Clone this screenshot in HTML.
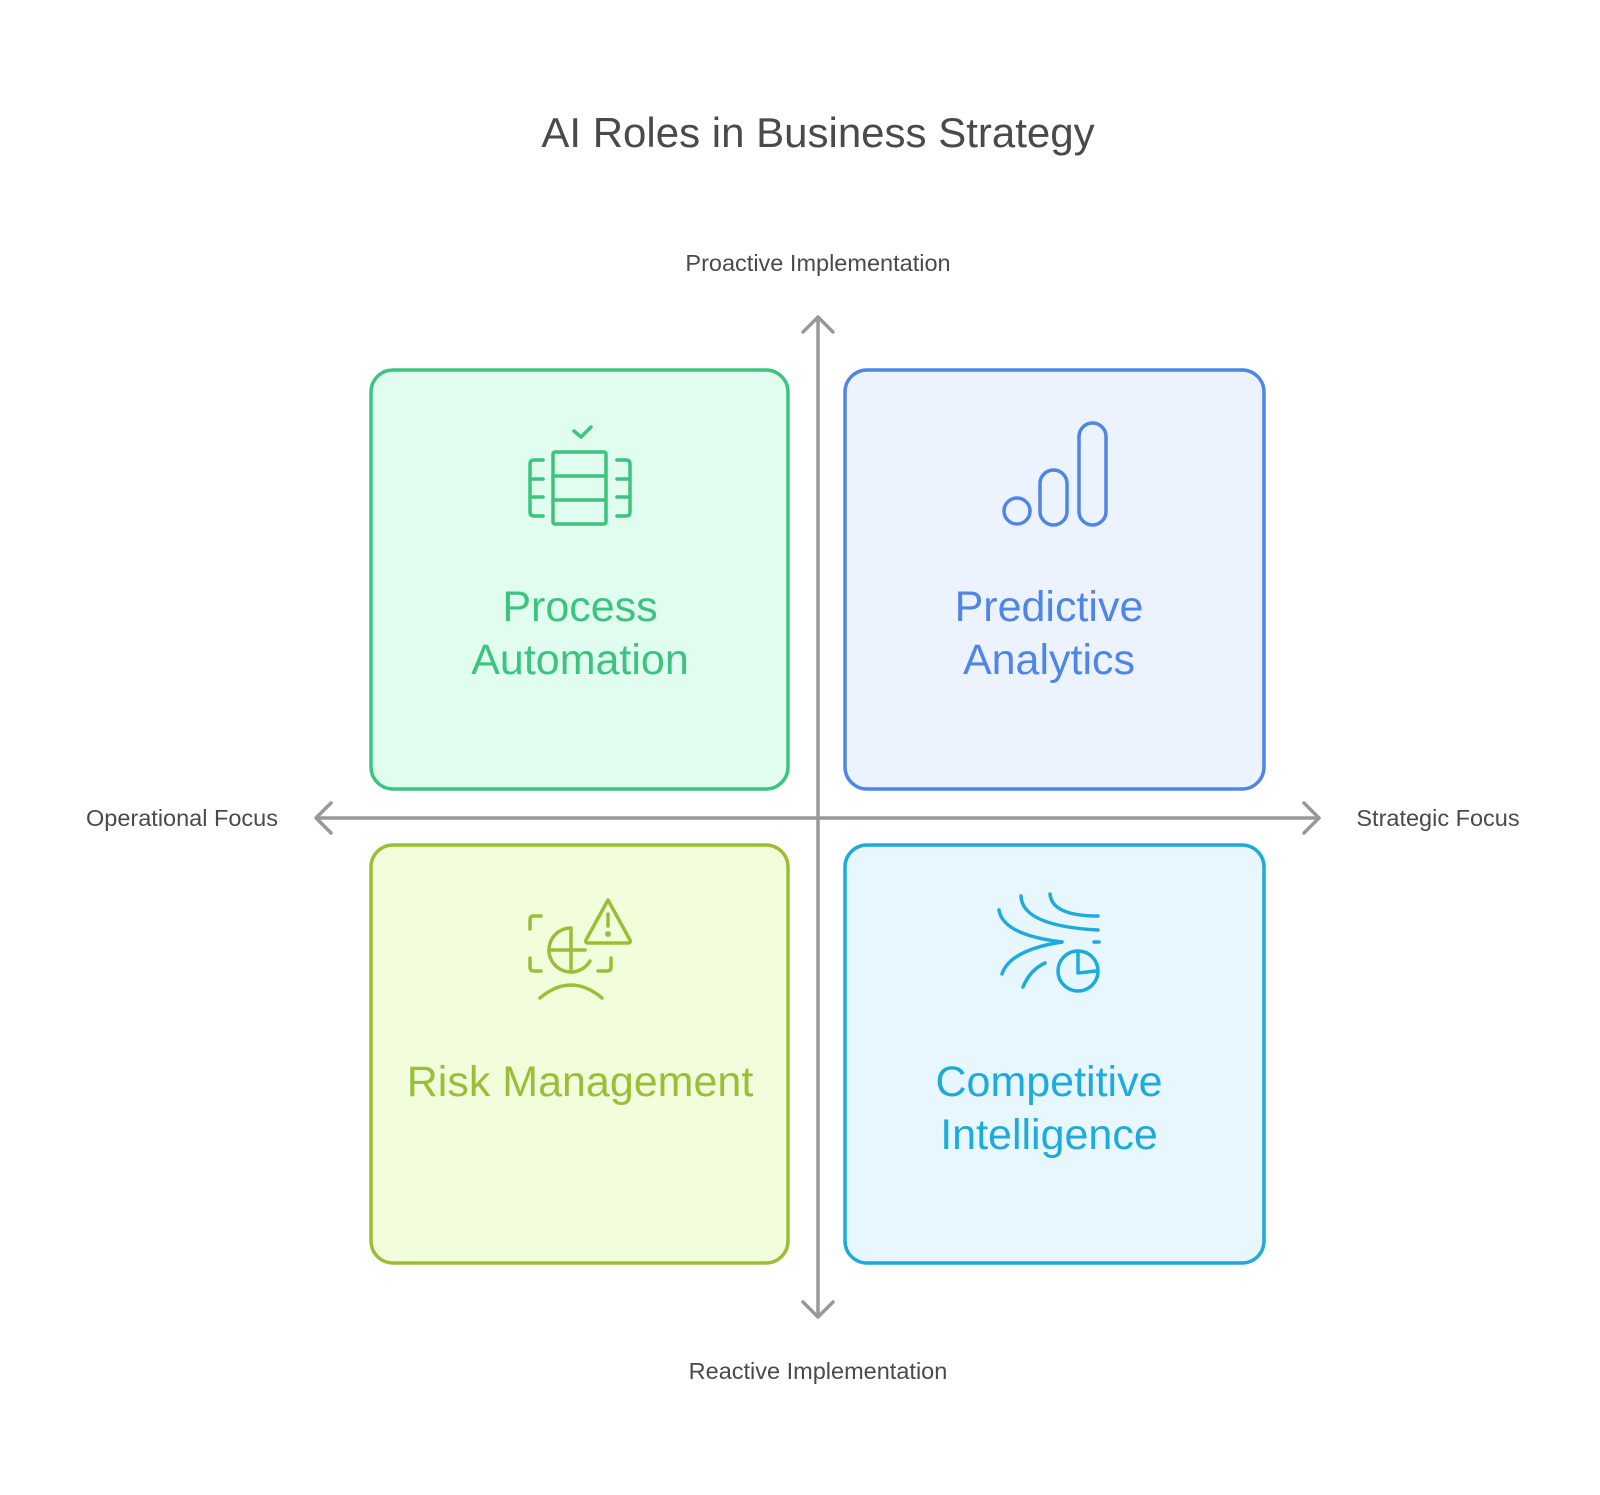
<!DOCTYPE html>
<html><head><meta charset="utf-8"><style>
html,body{margin:0;padding:0;background:#fff;}
svg{display:block;font-family:"Liberation Sans",sans-serif;}
</style></head><body>
<svg width="1600" height="1495" viewBox="0 0 1600 1495" xmlns="http://www.w3.org/2000/svg">
<text x="818" y="147" font-size="42" fill="#4a4a4a" text-anchor="middle">AI Roles in Business Strategy</text>
<text x="818" y="271" font-size="23.5" fill="#4a4a4a" text-anchor="middle">Proactive Implementation</text>
<text x="818" y="1379" font-size="23.5" fill="#4a4a4a" text-anchor="middle">Reactive Implementation</text>
<text x="182" y="826" font-size="23.5" fill="#4a4a4a" text-anchor="middle">Operational Focus</text>
<text x="1438" y="826" font-size="23.5" fill="#4a4a4a" text-anchor="middle">Strategic Focus</text>

<rect x="371" y="370" width="417" height="419" rx="22" fill="#e0fdf0" stroke="#3cc47f" stroke-width="3.5"/>
<rect x="845" y="370" width="419" height="419" rx="22" fill="#ecf3fe" stroke="#4f86e6" stroke-width="3.5"/>
<rect x="371" y="845" width="417" height="418" rx="22" fill="#f2fddb" stroke="#9abf36" stroke-width="3.5"/>
<rect x="845" y="845" width="419" height="418" rx="22" fill="#e8f7fe" stroke="#1eaadb" stroke-width="3.5"/>

<g stroke="#999" stroke-width="3.5" fill="none" stroke-linecap="round" stroke-linejoin="round">
<line x1="818" y1="318" x2="818" y2="1316"/>
<line x1="317" y1="818" x2="1318" y2="818"/>
<polyline points="803,332 818,317 833,332"/>
<polyline points="803,1302 818,1317 833,1302"/>
<polyline points="331,803 316,818 331,833"/>
<polyline points="1304,803 1319,818 1304,833"/>
</g>

<g font-size="43" text-anchor="middle">
<text x="580" y="621" fill="#3cc47f">Process</text>
<text x="580" y="674" fill="#3cc47f">Automation</text>
<text x="1049" y="621" fill="#4f86e6">Predictive</text>
<text x="1049" y="674" fill="#4f86e6">Analytics</text>
<text x="580" y="1096" fill="#9abf36">Risk Management</text>
<text x="1049" y="1096" fill="#1eaadb">Competitive</text>
<text x="1049" y="1149" fill="#1eaadb">Intelligence</text>
</g>

<g stroke="#3cc47f" stroke-width="3.5" fill="none" stroke-linecap="round" stroke-linejoin="round">
<polyline points="574,431 581,437 591,427"/>
<rect x="553" y="452" width="53" height="72" rx="2"/>
<line x1="553" y1="476" x2="606" y2="476"/>
<line x1="553" y1="500" x2="606" y2="500"/>
<path d="M543 460 H534 Q530 460 530 464 V512 Q530 516 534 516 H543"/>
<line x1="530" y1="479" x2="543" y2="479"/><line x1="530" y1="497" x2="543" y2="497"/>
<path d="M617 460 H626 Q630 460 630 464 V512 Q630 516 626 516 H617"/>
<line x1="617" y1="479" x2="630" y2="479"/><line x1="617" y1="497" x2="630" y2="497"/>
</g>

<g stroke="#4f86e6" stroke-width="3.5" fill="none">
<circle cx="1017" cy="511" r="13"/>
<rect x="1040" y="470" width="27" height="55" rx="13.5"/>
<rect x="1079" y="423" width="27" height="102" rx="13.5"/>
</g>

<g stroke="#9abf36" stroke-width="3.5" fill="none" stroke-linecap="round" stroke-linejoin="round">
<path d="M530 929 V920 Q530 916 534 916 H541"/>
<path d="M530 958 V967 Q530 971 534 971 H541"/>
<path d="M611 958 V967 Q611 971 607 971 H598"/>
<path d="M571 928 A22 22 0 1 0 590 961"/>
<line x1="571" y1="928" x2="571" y2="972"/>
<line x1="549" y1="950" x2="585" y2="950"/>
<path d="M608 900 L630 940 Q631 943 628 943 L588 943 Q585 943 586 940 Z"/>
<line x1="608" y1="914" x2="608" y2="926"/>
<circle cx="608" cy="934" r="1.2" fill="#9abf36"/>
<path d="M540 998 Q571 972 602 998"/>
</g>

<g stroke="#1eaadb" stroke-width="3.5" fill="none" stroke-linecap="round" stroke-linejoin="round">
<path d="M999 910 Q1003 935 1062 942"/>
<path d="M1021 896 Q1022 926 1098 930"/>
<path d="M1050 894 Q1052 916 1098 916"/>
<line x1="1094" y1="942" x2="1099" y2="942"/>
<path d="M1002 974 Q1010 950 1062 942"/>
<path d="M1023 987 Q1030 970 1045 963"/>
<circle cx="1078" cy="971" r="20"/>
<polyline points="1078,952 1078,973 1096,971"/>
</g>
</svg>
</body></html>
